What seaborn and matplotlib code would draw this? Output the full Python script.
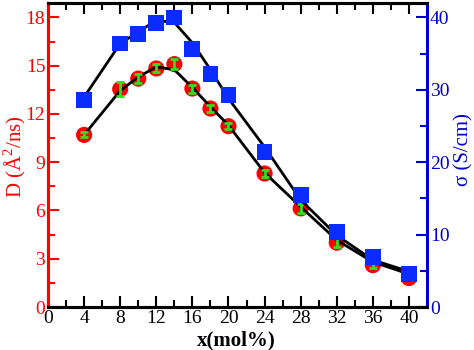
import numpy as np
import pandas as pd
import matplotlib
matplotlib.use("Agg")
import matplotlib.pyplot as plt
from matplotlib.ticker import MultipleLocator
import seaborn as sns

# ---- data ----
x_mol = [4, 8, 10, 12, 14, 16, 18, 20, 24, 28, 32, 36, 40]
D_vals = [10.7, 13.55, 14.2, 14.83, 15.1, 13.58, 12.34, 11.24, 8.3, 6.13, 4.0, 2.6, 1.8]
D_err = [0.15, 0.45, 0.3, 0.25, 0.3, 0.25, 0.2, 0.2, 0.2, 0.3, 0.3, 0.2, 0.1]
sigma_vals = [28.6, 36.4, 37.7, 39.2, 40.0, 35.7, 32.2, 29.3, 21.4, 15.5, 10.4, 6.9, 4.6]
D_fit = [10.7, 13.45, 14.3, 14.93, 14.75, 13.65, 12.45, 11.3, 8.35, 6.23, 4.16, 2.8, 2.05]
sigma_fit = [29.0, 36.4, 38.0, 39.6, 39.3, 36.5, 32.8, 28.8, 22.1, 14.8, 9.9, 6.5, 4.9]

df = pd.DataFrame({"x": x_mol, "D": D_vals, "Derr": D_err, "sigma": sigma_vals,
                   "Dfit": D_fit, "sfit": sigma_fit})

sns.set_style("ticks")
plt.rcParams["font.family"] = ["Liberation Serif", "DejaVu Serif"]
plt.rcParams["mathtext.fontset"] = "custom"
plt.rcParams["mathtext.rm"] = "Liberation Serif"

RED = "#ff0000"
BLUE = "#0a2cff"
DBLUE = "#0000cc"
GREEN = "#33dd22"

W, H = 474, 350
fig = plt.figure(figsize=(4.74, 3.5), dpi=100)
ax = fig.add_axes([48 / W, 1 - 307 / H, (427 - 48) / W, (307 - 3) / H])
ax2 = ax.twinx()

# D series (left axis)
sns.scatterplot(data=df, x="x", y="D", ax=ax, color=RED, s=135, marker="o",
                edgecolor="none", zorder=2, legend=False)
sns.lineplot(data=df, x="x", y="Dfit", ax=ax, color="black", linewidth=2.0,
             zorder=3, legend=False)
ax.errorbar(df["x"], df["D"], yerr=df["Derr"], fmt="none", ecolor=GREEN,
            elinewidth=2.0, capsize=3.0, capthick=2.0, zorder=4)

# sigma series (right axis)
sns.lineplot(data=df, x="x", y="sfit", ax=ax2, color="black", linewidth=2.0,
             zorder=3, legend=False)
sns.scatterplot(data=df, x="x", y="sigma", ax=ax2, color=BLUE, s=130, marker="s",
                edgecolor="none", zorder=5, legend=False)

ax.set_xlim(0, 42)
ax.set_ylim(0, 18.9)
ax2.set_ylim(0, 42)

ax.xaxis.set_major_locator(MultipleLocator(4))
ax.xaxis.set_minor_locator(MultipleLocator(2))
ax.yaxis.set_major_locator(MultipleLocator(3))
ax.yaxis.set_minor_locator(MultipleLocator(1.5))
ax2.yaxis.set_major_locator(MultipleLocator(10))
ax2.yaxis.set_minor_locator(MultipleLocator(5))

fs = 14
ax.tick_params(axis="x", which="both", direction="in", top=True, bottom=True,
               colors="black", labelsize=fs, width=1.5, pad=2)
ax.tick_params(axis="x", which="major", length=8)
ax.tick_params(axis="x", which="minor", length=5)
ax.tick_params(axis="y", which="both", direction="in", colors=RED, labelsize=fs,
               width=1.5, pad=2)
ax.tick_params(axis="y", which="major", length=8)
ax.tick_params(axis="y", which="minor", length=5)
ax2.tick_params(axis="y", which="both", direction="in", colors=DBLUE, labelsize=fs,
                width=1.5, pad=2)
ax2.tick_params(axis="y", which="major", length=8)
ax2.tick_params(axis="y", which="minor", length=5)

for side in ["top", "bottom"]:
    for a in (ax, ax2):
        a.spines[side].set_linewidth(2.2)
        a.spines[side].set_color("black")
for a in (ax, ax2):
    a.spines["left"].set_color(RED)
    a.spines["left"].set_linewidth(2.2)
ax2.spines["right"].set_color(DBLUE)
ax2.spines["right"].set_linewidth(2.2)
ax.spines["right"].set_visible(False)

ax.set_xlabel("x(mol%)", fontsize=15, fontweight="bold", color="black")
ax.set_ylabel("D (Å$^{2}$/ns)", fontsize=15, color=RED)
ax2.set_ylabel("σ (S/cm)", fontsize=15, color=DBLUE)

axw = 427 - 48
axh = 307 - 3
ax.xaxis.set_label_coords((236 - 48) / axw, -(330 - 307) / axh)
ax.yaxis.set_label_coords(-(48 - 28) / axw, (307 - 157) / axh)
ax2.yaxis.set_label_coords((454 - 48) / axw, (307 - 150) / axh)

fig.savefig("out.png", dpi=100)
